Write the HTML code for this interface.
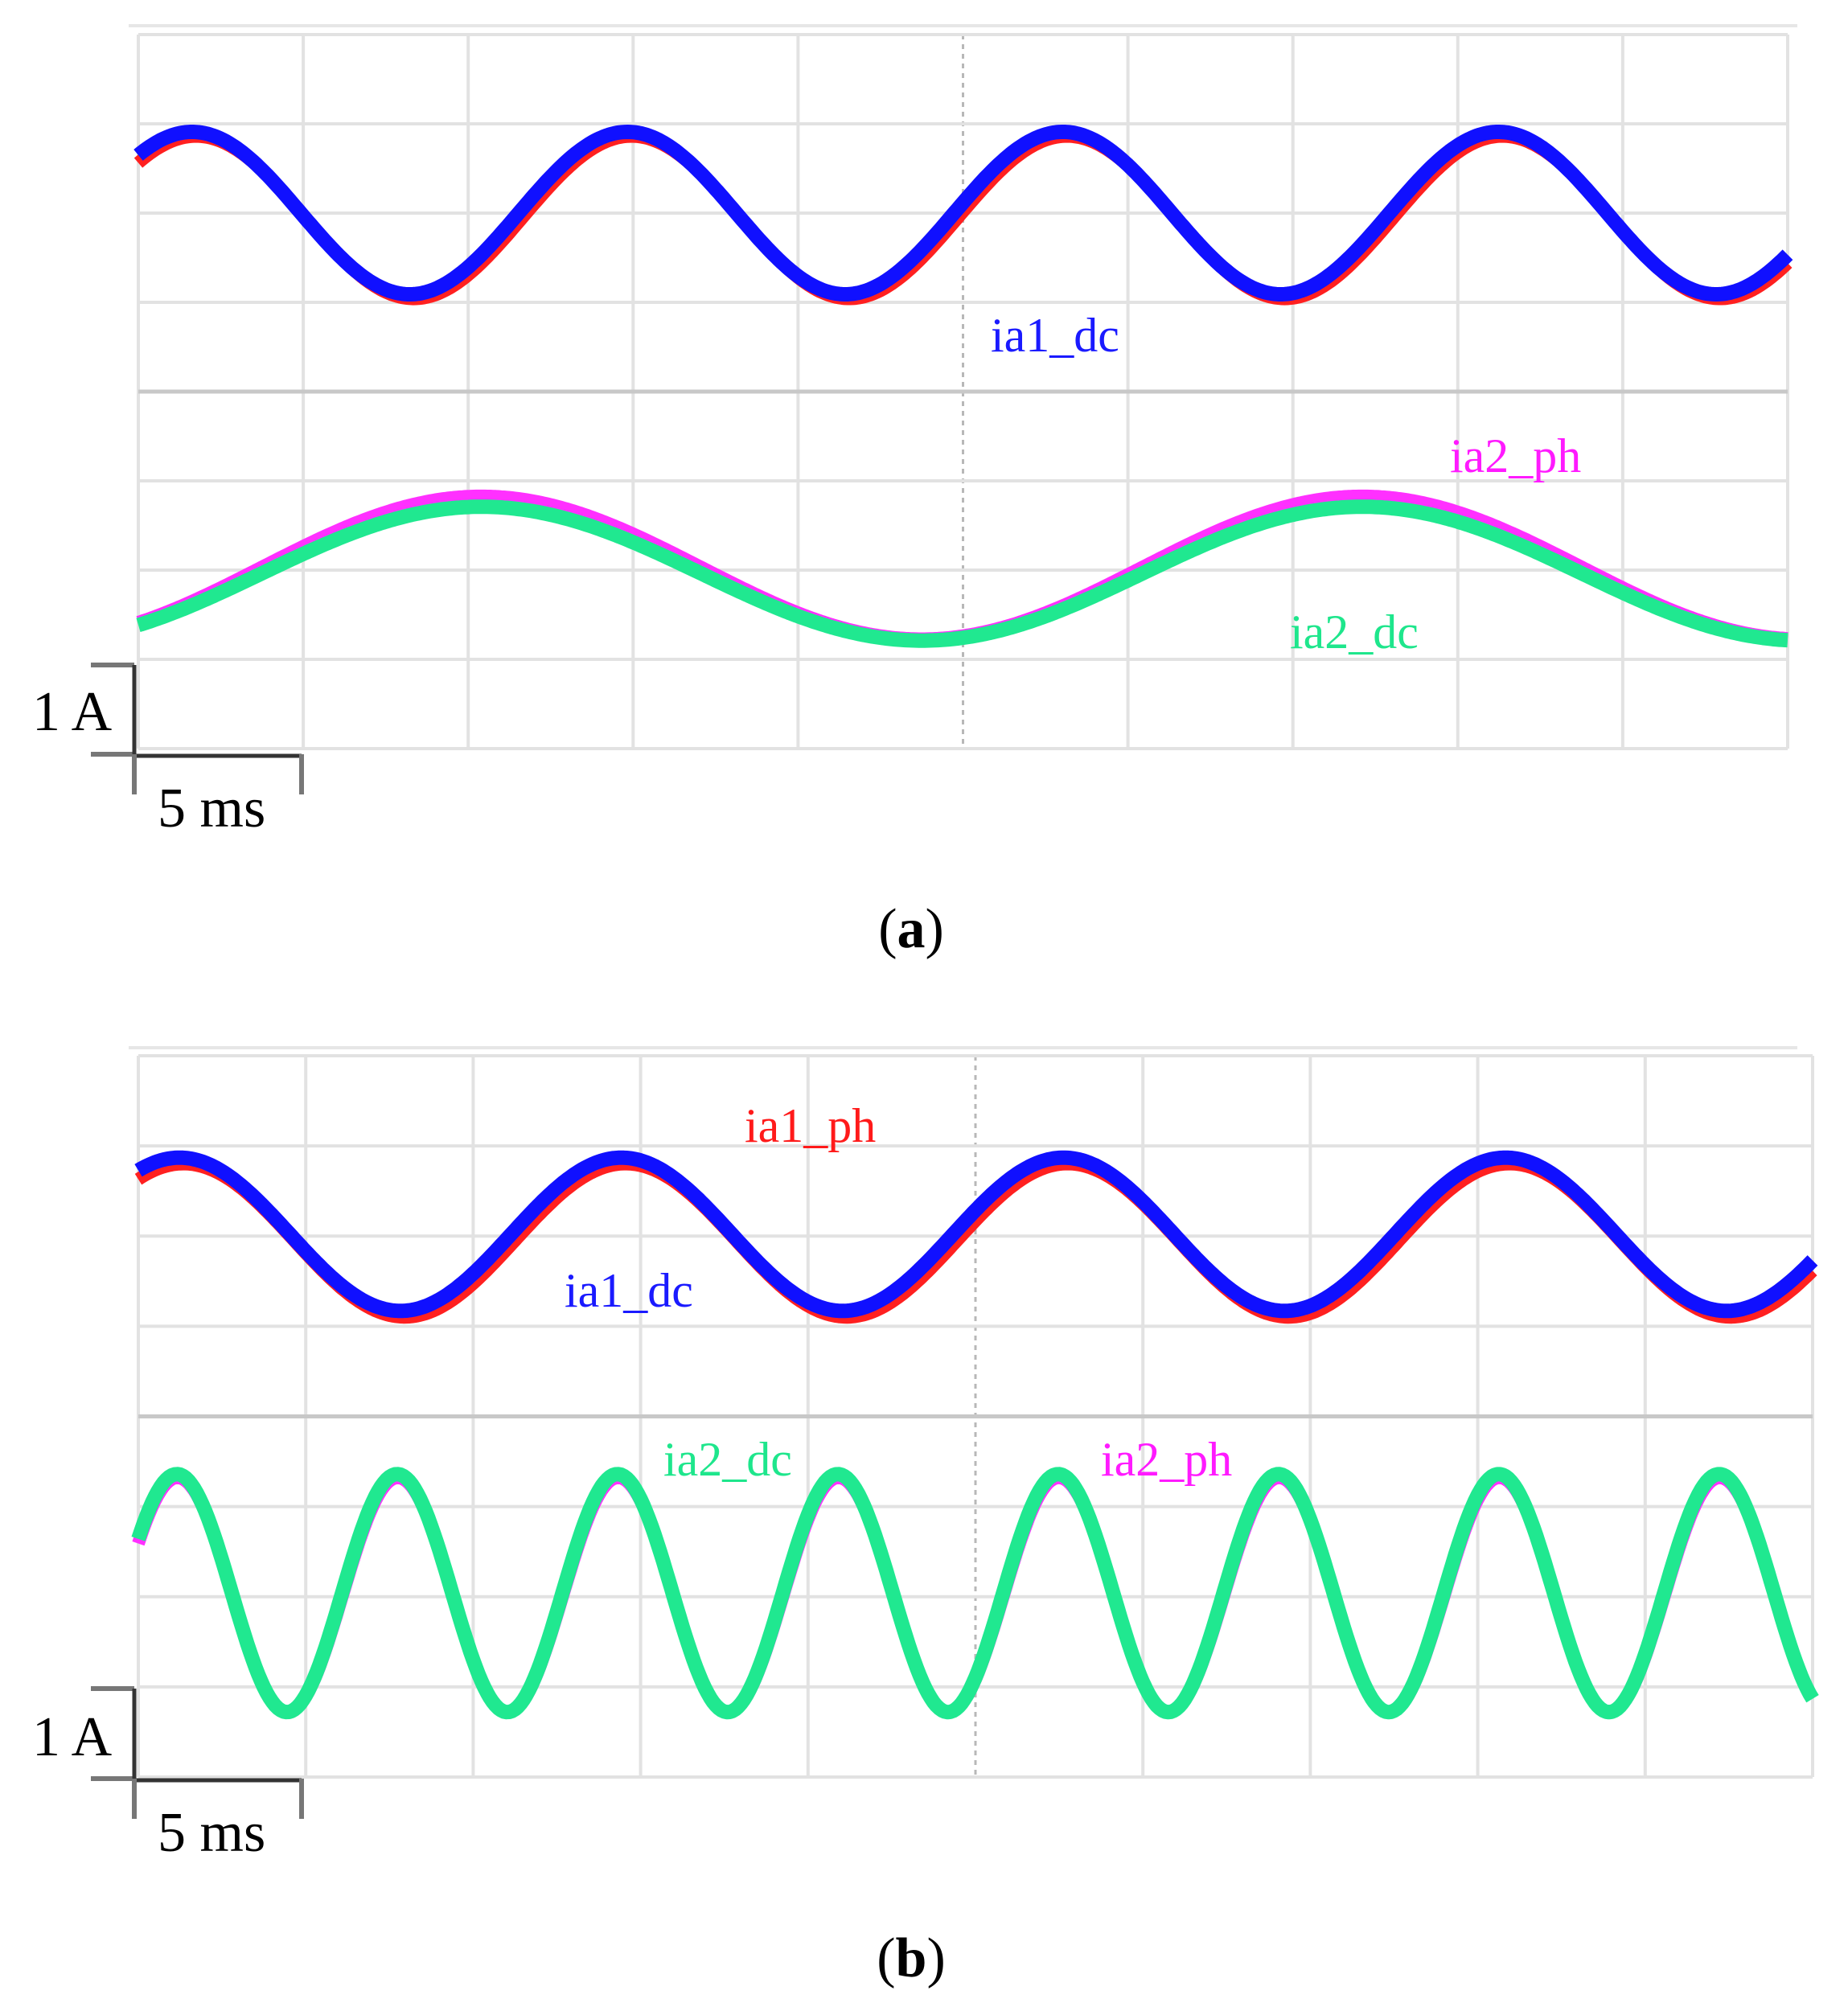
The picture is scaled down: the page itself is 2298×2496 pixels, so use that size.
<!DOCTYPE html>
<html><head><meta charset="utf-8"><style>
html,body{margin:0;padding:0;background:#fff}
svg{display:block}
text{font-family:"Liberation Serif",serif}
</style></head><body>
<svg id="fig" width="2298" height="2496" viewBox="0 0 2298 2496" xmlns="http://www.w3.org/2000/svg">
<g id="pa"></g>
<g id="pb"></g>
<g>
<text x="1232" y="437" font-size="60" fill="#1a1aff">ia1_dc</text>
<text x="1803" y="587" font-size="60" fill="#ff1aff">ia2_ph</text>
<text x="1604" y="806" font-size="60" fill="#1ee68c">ia2_dc</text>
<text x="926" y="1420" font-size="60" fill="#ff1a1a">ia1_ph</text>
<text x="702" y="1625" font-size="60" fill="#1a1aff">ia1_dc</text>
<text x="825" y="1835" font-size="60" fill="#1ee68c">ia2_dc</text>
<text x="1369" y="1835" font-size="60" fill="#ff1aff">ia2_ph</text>
<text x="1133" y="1178" font-size="70" text-anchor="middle">(<tspan font-weight="bold">a</tspan>)</text>
<text x="1133" y="2458" font-size="70" text-anchor="middle">(<tspan font-weight="bold">b</tspan>)</text>
</g>
</svg>
<script>
// panel a, b series parameters (ms, A)
const seriesNames = ['ia1_ph','ia1_dc','ia2_ph','ia2_dc'];
const seriesColors = ['#ff2020','#1010ff','#ff30ff','#20e890'];
const aCenter = [5.95, 6.0, 2.03, 1.96];
const aAmp = [0.91, 0.91, 0.80, 0.75];
const aPeriod = [13.2, 13.2, 26.7, 26.7];
const aPeakT = [1.75, 1.63, 10.4, 10.4];
const bCenter = [5.95, 6.02, 2.02, 2.04];
const bAmp = [0.85, 0.85, 1.30, 1.32];
const bPeriod = [13.2, 13.2, 6.58, 6.58];
const bPeakT = [1.35, 1.23, 1.17, 1.15];
const xDivs = 10, yDivs = 8, msPerDiv = 5;

const NS='http://www.w3.org/2000/svg';
function mk(tag, attrs, parent){const e=document.createElementNS(NS,tag);for(const k in attrs)e.setAttribute(k,attrs[k]);parent.appendChild(e);return e;}

function panel(g, L, R, T, B, center, amp, period, peakT, topLine){
  const xs = t => L + t/(xDivs*msPerDiv)*(R-L);
  const ys = v => B - v/yDivs*(B-T);
  if(topLine){const l=mk('line',{x1:160,y1:topLine,x2:2235,y2:topLine,stroke:'#e6e6e6','stroke-width':4},g);
    
    }
  for(let i=0;i<=xDivs;i++){
    const x=xs(i*msPerDiv);
    const l=mk('line',{x1:x,y1:T,x2:x,y2:B,stroke:i==5?'#b8b8b8':'#e2e2e2','stroke-width':i==5?3:4,'stroke-dasharray':i==5?'6 6':'none'},g);
    
    
  }
  for(let j=0;j<=yDivs;j++){
    const y=ys(j);
    const l=mk('line',{x1:L,y1:y,x2:R,y2:y,stroke:j==4?'#c8c8c8':'#e2e2e2','stroke-width':j==4?5:4},g);
    
    
  }
  [0,1,2,3].forEach(s=>{
    let d='';
    const T0 = xDivs*msPerDiv;
    for(let k=0;k<=600;k++){
      const t=k/600*T0;
      const v=center[s]+amp[s]*Math.cos(2*Math.PI*(t-peakT[s])/period[s]);
      d+=(k?'L':'M')+xs(t).toFixed(1)+' '+ys(v).toFixed(1);
    }
    const p=mk('path',{d:d,fill:'none',stroke:seriesColors[s],'stroke-width':s%2?18:16,'stroke-linejoin':'round'},g);
    
    
  });
}
panel(document.getElementById('pa'),172,2223,43,931,aCenter,aAmp,aPeriod,aPeakT,32);
panel(document.getElementById('pb'),172,2254,1313,2210,bCenter,bAmp,bPeriod,bPeakT,1303);

function scale(y0, y1, ylab){
  const g=mk('g',{},document.getElementById('fig'));
  
  
  mk('line',{x1:113,y1:y0,x2:167,y2:y0,stroke:'#777','stroke-width':6},g);
  mk('line',{x1:113,y1:y1,x2:167,y2:y1,stroke:'#777','stroke-width':6},g);
  mk('line',{x1:167,y1:y0,x2:167,y2:y1+2,stroke:'#333','stroke-width':5},g);
  mk('line',{x1:167,y1:y1+2,x2:375,y2:y1+2,stroke:'#333','stroke-width':5},g);
  mk('line',{x1:167,y1:y1,x2:167,y2:y1+50,stroke:'#777','stroke-width':6},g);
  mk('line',{x1:375,y1:y1,x2:375,y2:y1+50,stroke:'#777','stroke-width':6},g);
  const a=mk('text',{x:40,y:ylab,'font-size':70},g);a.textContent='1 A';
  
  
  const m=mk('text',{x:196,y:y1+90,'font-size':70},g);m.textContent='5 ms';
  
  
}
scale(827,938,908);
scale(2100,2212,2183);
</script>
</body></html>
